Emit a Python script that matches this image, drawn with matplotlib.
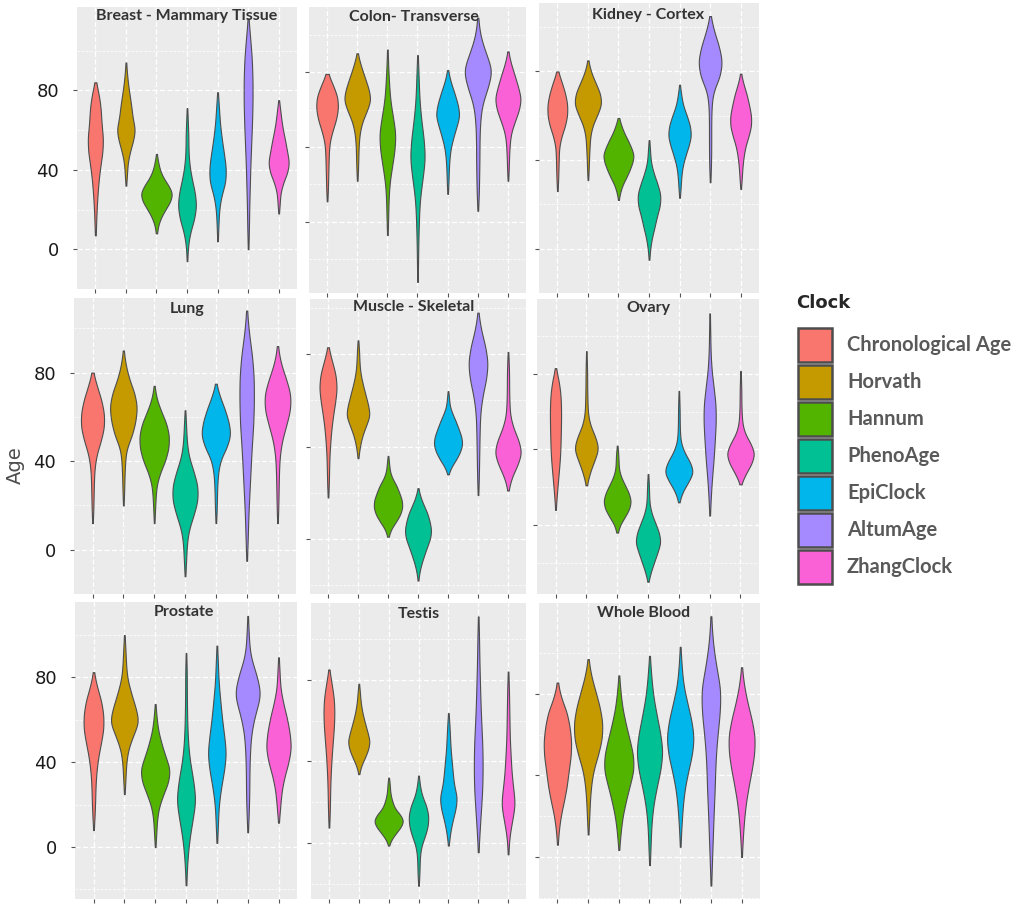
import numpy as np
import matplotlib
matplotlib.use("Agg")
import matplotlib.pyplot as plt
from matplotlib.patches import Rectangle

W, H = 1020, 907

clocks = ["Chronological Age", "Horvath", "Hannum", "PhenoAge", "EpiClock", "AltumAge", "ZhangClock"]
clock_colors = ["#F8766D", "#C49A00", "#53B400", "#00C094", "#00B6EB", "#A58AFF", "#FB61D7"]

tissues = ["Breast - Mammary Tissue", "Colon- Transverse", "Kidney - Cortex",
           "Lung", "Muscle - Skeletal", "Ovary",
           "Prostate", "Testis", "Whole Blood"]

# each violin: (min age, max age, relative thickness read at even steps from min to max)
breast = [
    (7, 84, [0.8, 1.5, 2.5, 4, 6, 9, 13, 14, 11, 10, 7, 1]),
    (32, 94, [0.5, 2, 3, 7, 13, 17, 12, 10, 7, 4, 2, 0.5]),
    (8, 48, [1, 3, 8, 16, 25, 29, 22, 12, 6, 3, 0.5]),
    (-6, 71, [0.5, 1.5, 5, 13, 17, 14, 8, 4, 2.5, 2.5, 1.5, 0.5]),
    (4, 79, [0.5, 1.5, 2.5, 6, 15, 15, 11, 7, 4, 2.5, 0.5]),
    (0, 116, [0.5, 1.5, 2, 3, 4, 5.5, 7, 8, 8, 7, 4, 0.5]),
    (18, 75, [0.5, 2, 3, 8, 16, 19, 15, 12, 8, 5, 3, 0.5]),
]
colon = [
    (11, 79, [0.5, 1.5, 2, 2.5, 3, 4, 9, 16, 20, 19, 11, 1.5]),
    (22, 90, [0.5, 1.5, 2, 2.5, 4, 8, 17, 25, 20, 13, 6, 0.5]),
    (-7, 92, [0.5, 1.5, 2, 3.5, 8, 13, 15, 10, 5, 3, 1.5, 0.5]),
    (-32, 89, [0.5, 1, 1.5, 2.5, 4, 9, 14, 11, 6, 3, 2, 0.5]),
    (15, 81, [0.5, 1.5, 2, 3, 5, 10, 16, 22, 18, 12, 5, 0.5]),
    (6, 109, [0.5, 2, 2.5, 3, 3, 4, 7, 18, 27, 14, 4, 0.5]),
    (22, 91, [0.5, 1.5, 2, 3, 5, 12, 20, 24, 18, 12, 5, 0.5]),
]
kidney = [
    (26, 80, [0.5, 1.5, 2, 2.5, 3, 7, 14, 18, 18, 14, 8, 1]),
    (31, 85, [0.5, 1.5, 2, 3, 4, 8, 17, 25, 22, 13, 5, 0.5]),
    (22, 59, [0.5, 3, 7, 14, 20, 25, 28, 23, 17, 10, 5, 1]),
    (-5, 49, [0.5, 2, 5, 10, 14, 20, 21, 15, 8, 3, 2, 0.5]),
    (23, 74, [0.5, 2, 3, 5, 10, 16, 21, 19, 13, 6, 3, 0.5]),
    (30, 105, [0.5, 1.5, 2, 2, 2, 2.5, 5, 18, 22, 16, 7, 0.5]),
    (27, 79, [0.5, 2, 3, 5, 8, 14, 19, 19, 15, 11, 5, 0.5]),
]
lung = [
    (12, 80, [0.5, 1.5, 2, 2.5, 3.5, 7, 15, 21, 21, 16, 8, 1]),
    (20, 90, [0.5, 1.5, 2, 3, 5, 16, 22, 25, 20, 10, 4, 0.5]),
    (12, 74, [0.5, 1.5, 2.5, 4, 10, 20, 26, 27, 22, 12, 4, 0.5]),
    (-12, 63, [0.5, 2, 3, 6, 15, 23, 23, 15, 6, 3, 2, 0.5]),
    (12, 75, [0.5, 1.5, 2, 2.5, 4, 8, 20, 27, 23, 16, 7, 0.5]),
    (-5, 108, [0.5, 2, 3, 5, 7, 9, 12, 13, 13, 10, 4, 0.5]),
    (12, 92, [0.5, 1.5, 2, 2.5, 3.5, 7, 15, 23, 24, 15, 5, 0.5]),
]
muscle = [
    (18, 83, [0.5, 1.5, 2, 2.5, 4, 6, 9, 13, 16, 14, 7, 0.5]),
    (35, 86, [0.5, 3, 7, 14, 22, 18, 13, 8, 4, 2.5, 2, 0.5]),
    (1, 36, [1, 5, 14, 22, 26, 25, 20, 15, 7, 3, 2, 0.5]),
    (-18, 22, [0.5, 2.5, 6, 11, 16, 22, 24, 21, 17, 10, 4, 0.5]),
    (28, 64, [0.5, 6, 15, 22, 26, 24, 19, 14, 8, 3, 2, 0.5]),
    (19, 98, [0.5, 1.5, 2, 2.5, 3, 4, 8, 15, 18, 13, 5, 0.5]),
    (21, 81, [0.5, 6, 17, 25, 19, 9, 3.5, 2.5, 2, 2, 1.5, 0.5]),
]
ovary = [
    (8, 83, [0.5, 2, 4, 6, 8, 9, 9.5, 10, 10, 9, 6, 0.5]),
    (21, 92, [0.5, 6, 14, 23, 16, 6, 2.5, 2, 1.5, 1.5, 1, 0.5]),
    (-4, 42, [1, 5, 14, 22, 25, 21, 14, 7, 3, 2.5, 2, 0.5]),
    (-30, 27, [0.5, 5, 11, 17, 23, 20, 13, 6, 2.5, 2, 1.5, 0.5]),
    (12, 71, [0.5, 6, 17, 27, 20, 9, 3, 2, 1.5, 1.5, 1, 0.5]),
    (5, 112, [0.5, 2, 4, 7, 9, 11, 11, 7, 3, 1.5, 1, 0.5]),
    (21.5, 81.5, [0.5, 9, 20, 26, 18, 7, 3, 2, 1.5, 1.5, 1, 0.5]),
]
prostate = [
    (8, 82.5, [0.5, 2, 3, 3.5, 5, 8, 13, 18, 18, 14, 6, 0.5]),
    (25, 100, [0.5, 2, 3, 6, 15, 27, 20, 12, 5, 3, 2, 0.5]),
    (0, 67.5, [0.5, 2, 3, 6, 14, 24, 27, 18, 11, 5, 2.5, 0.5]),
    (-18, 91.5, [0.5, 2, 5, 11, 18, 13, 6, 3, 2, 1.5, 1.5, 0.5]),
    (2, 95, [0.5, 2, 3, 7, 13, 17, 13, 9, 6, 3, 2, 0.5]),
    (7, 109, [0.5, 2, 3, 3, 4, 6, 13, 25, 16, 4, 2, 0.5]),
    (11.5, 89.5, [0.5, 3, 5, 10, 18, 23, 20, 15, 8, 3, 2, 0.5]),
]
testis = [
    (7.5, 85, [0.5, 1.5, 2, 2.5, 3.5, 5, 7, 9, 10, 9, 5, 0.5]),
    (33.7, 78, [0.5, 4, 11, 17, 20, 16, 12, 8, 5, 3, 2, 0.5]),
    (-1.3, 32, [0.5, 5, 13, 22, 27, 21, 11, 7, 4, 2.5, 2, 0.5]),
    (-21, 33, [0.5, 1.5, 2, 2.5, 5, 12, 17, 18, 14, 6, 2.5, 0.5]),
    (-1.3, 63.6, [0.5, 3, 7, 13, 16, 10, 8, 6, 4, 3, 2, 0.5]),
    (-4.6, 111, [0.5, 2.5, 5, 7.5, 8, 7.5, 5.5, 4, 3, 2, 1.5, 0.5]),
    (-5.6, 84, [0.5, 2, 7, 13, 9, 6, 4.5, 3, 2.5, 2, 1.5, 0.5]),
]
blood = [
    (6, 85.5, [0.5, 2.5, 6, 12, 17, 20, 24, 25, 22, 17, 6, 0.5]),
    (11, 97, [0.5, 2, 3, 5, 9, 18, 25, 26, 21, 13, 5, 0.5]),
    (3.4, 89, [0.5, 3, 6, 12, 19, 27, 26, 19, 12, 6, 3, 0.5]),
    (-4, 98.6, [0.5, 2, 3, 6, 12, 20, 24, 19, 12, 6, 3, 0.5]),
    (5, 103, [0.5, 2, 4, 7, 13, 21, 25, 20, 12, 5, 2.5, 0.5]),
    (-14, 118, [0.5, 2, 3.5, 5, 7, 8, 11, 16, 18, 9, 3, 0.5]),
    (0, 93, [0.5, 2, 4, 7, 12, 18, 23, 24, 18, 10, 4, 0.5]),
]
panel_data = [breast, colon, kidney, lung, muscle, ovary, prostate, testis, blood]

# panel boxes in pixels (left, right, top, bottom) and y ranges
panel_px = [(77, 297, 7, 289), (309, 526, 7, 293), (539, 759, 3, 293),
            (74, 296, 298, 594), (310, 526, 299, 594), (537, 759, 299, 594),
            (75, 297, 602, 899), (311, 526, 603, 899), (539, 760, 603, 899)]
panel_ylim = [(-9.3, 121.9), (-37.9, 114.7), (-10.5, 110.9),
              (-17.3, 113.7), (-23.8, 103.9), (-36.5, 119.6),
              (-24.5, 115.6), (-27.5, 117.6), (-20.6, 124.5)]
title_px = [(187, 16), (414, 17), (648, 15), (187, 309), (414, 307), (648, 308),
            (184, 612), (419, 614), (644, 613)]


def violin_shape(lo, hi, prof, n=240):
    # gaussian smoothing of the thickness profile, trimmed to [lo, hi]
    knots = np.linspace(lo, hi, len(prof))
    step = knots[1] - knots[0]
    h = 0.62 * step
    y = np.linspace(lo, hi, n)
    k = np.exp(-0.5 * ((y[:, None] - knots[None, :]) / h) ** 2)
    dens = k @ np.asarray(prof, float) * step / (h * np.sqrt(2 * np.pi))
    return y, dens


fig = plt.figure(figsize=(W / 100, H / 100), dpi=100)
fig.patch.set_facecolor("white")

for i, (name, data) in enumerate(zip(tissues, panel_data)):
    l, r, t, b = panel_px[i]
    ax = fig.add_axes([l / W, 1 - b / H, (r - l) / W, (b - t) / H])
    ax.set_facecolor("#EBEBEB")
    for s in ax.spines.values():
        s.set_visible(False)
    ax.set_xlim(0.4, 7.6)
    ax.set_ylim(*panel_ylim[i])
    ax.set_xticks(range(1, 8))
    ax.set_xticklabels([])
    ax.set_yticks([0, 40, 80])
    ax.set_yticks([-20, 20, 60, 100], minor=True)
    ax.grid(True, which="major", color="white", linestyle=(0, (4, 2)), linewidth=0.9)
    ax.grid(True, which="minor", axis="y", color="white", linestyle=(0, (4, 2)), linewidth=0.5)
    ax.set_axisbelow(True)
    ax.tick_params(which="major", length=3, width=0.8, color="#555555")
    ax.tick_params(which="minor", length=0)
    if i % 3 == 0:
        ax.set_yticklabels(["0", "40", "80"], fontsize=13, color="#1a1a1a")
        ax.tick_params(axis="y", pad=10)
    else:
        ax.set_yticklabels([])

    px_per_unit = (r - l) / 7.2
    for j, (lo, hi, prof) in enumerate(data):
        y, dens = violin_shape(lo, hi, prof)
        half = dens * 1.12 / 2 / px_per_unit
        ax.fill_betweenx(y, j + 1 - half, j + 1 + half, facecolor=clock_colors[j],
                         edgecolor="#4d4d4d", linewidth=0.8, zorder=3)

    tx, ty = title_px[i]
    fig.text(tx / W, 1 - ty / H, name, ha="center", va="center", fontsize=11.5,
             fontweight="bold", color="#333333", family=["Lato", "DejaVu Sans"])

fig.text(15 / W, 1 - 465 / H, "Age", rotation=90, ha="center", va="center",
         fontsize=14, color="#4d4d4d")

# legend
lax = fig.add_axes([0, 0, 1, 1], facecolor="none")
lax.set_xlim(0, W)
lax.set_ylim(H, 0)
lax.axis("off")
lax.text(796, 303, "Clock", ha="left", va="center", fontsize=13, fontweight="bold",
         color="#262626")
for k, (lab, col) in enumerate(zip(clocks, clock_colors)):
    top = 328 + k * 37
    lax.add_patch(Rectangle((798, top), 34, 34, facecolor=col, edgecolor="#4d4d4d",
                            linewidth=1.8))
    lax.text(847, top + 17, lab, ha="left", va="center", fontsize=14.5,
             fontweight="bold", color="#595959", family=["Lato", "DejaVu Sans"])

fig.savefig("out.png", dpi=100)
